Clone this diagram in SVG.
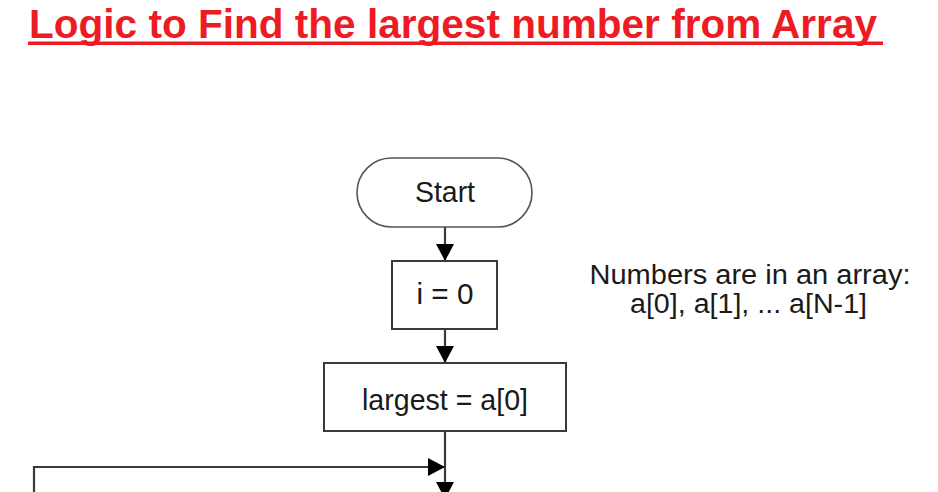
<svg xmlns="http://www.w3.org/2000/svg" width="938" height="492" viewBox="0 0 938 492">
  <style>
    .title { font-family: "Liberation Sans", Arial, sans-serif; font-weight: bold; font-size: 40.5px; fill: #ED1C24; }
    .lbl { font-family: "Liberation Sans", Arial, sans-serif; font-size: 30px; fill: #1a1a1a; text-anchor: middle; }
    .note { font-family: "Liberation Sans", Arial, sans-serif; font-size: 27px; fill: #1a1a1a; text-anchor: middle; }
    .box { fill: #ffffff; stroke: #3a3a3a; stroke-width: 2; }
    .term { fill: #ffffff; stroke: #555555; stroke-width: 1.6; }
    .conn { fill: none; stroke: #3a3a3a; stroke-width: 2.2; }
  </style>
  <defs>
    <marker id="arrow" viewBox="0 0 17 18" refX="17" refY="9" markerWidth="17" markerHeight="18" markerUnits="userSpaceOnUse" orient="auto">
      <path d="M0,0 L17,9 L0,18 Z" fill="#000000"/>
    </marker>
  </defs>
  <rect width="938" height="492" fill="#ffffff"/>

  <g id="title">
    <text class="title" x="29" y="37.5" textLength="848" lengthAdjust="spacingAndGlyphs">Logic to Find the largest number from Array</text>
    <rect x="28" y="41.5" width="855" height="3.5" fill="#ED1C24"/>
  </g>

  <g id="connectors">
    <path class="conn" d="M445,227 V261" marker-end="url(#arrow)"/>
    <path class="conn" d="M445,329 V363" marker-end="url(#arrow)"/>
    <path class="conn" d="M445,431 V499" marker-end="url(#arrow)"/>
    <path class="conn" d="M34,500 V467 H445" marker-end="url(#arrow)"/>
  </g>

  <g id="start">
    <rect class="term" x="357" y="158" width="175" height="69" rx="34.5" ry="34.5"/>
    <text class="lbl" x="445" y="202" textLength="60" lengthAdjust="spacingAndGlyphs">Start</text>
  </g>

  <g id="init-i">
    <rect class="box" x="392" y="261" width="105" height="68"/>
    <text class="lbl" x="445" y="304" textLength="57" lengthAdjust="spacingAndGlyphs">i = 0</text>
  </g>

  <g id="init-largest">
    <rect class="box" x="324" y="363" width="242" height="68"/>
    <text class="lbl" x="445" y="410" textLength="166" lengthAdjust="spacingAndGlyphs">largest = a[0]</text>
  </g>

  <g id="note">
    <text class="note" x="750" y="284" textLength="321" lengthAdjust="spacingAndGlyphs">Numbers are in an array:</text>
    <text class="note" x="748.5" y="313" textLength="237" lengthAdjust="spacingAndGlyphs">a[0], a[1], ... a[N-1]</text>
  </g>
</svg>
